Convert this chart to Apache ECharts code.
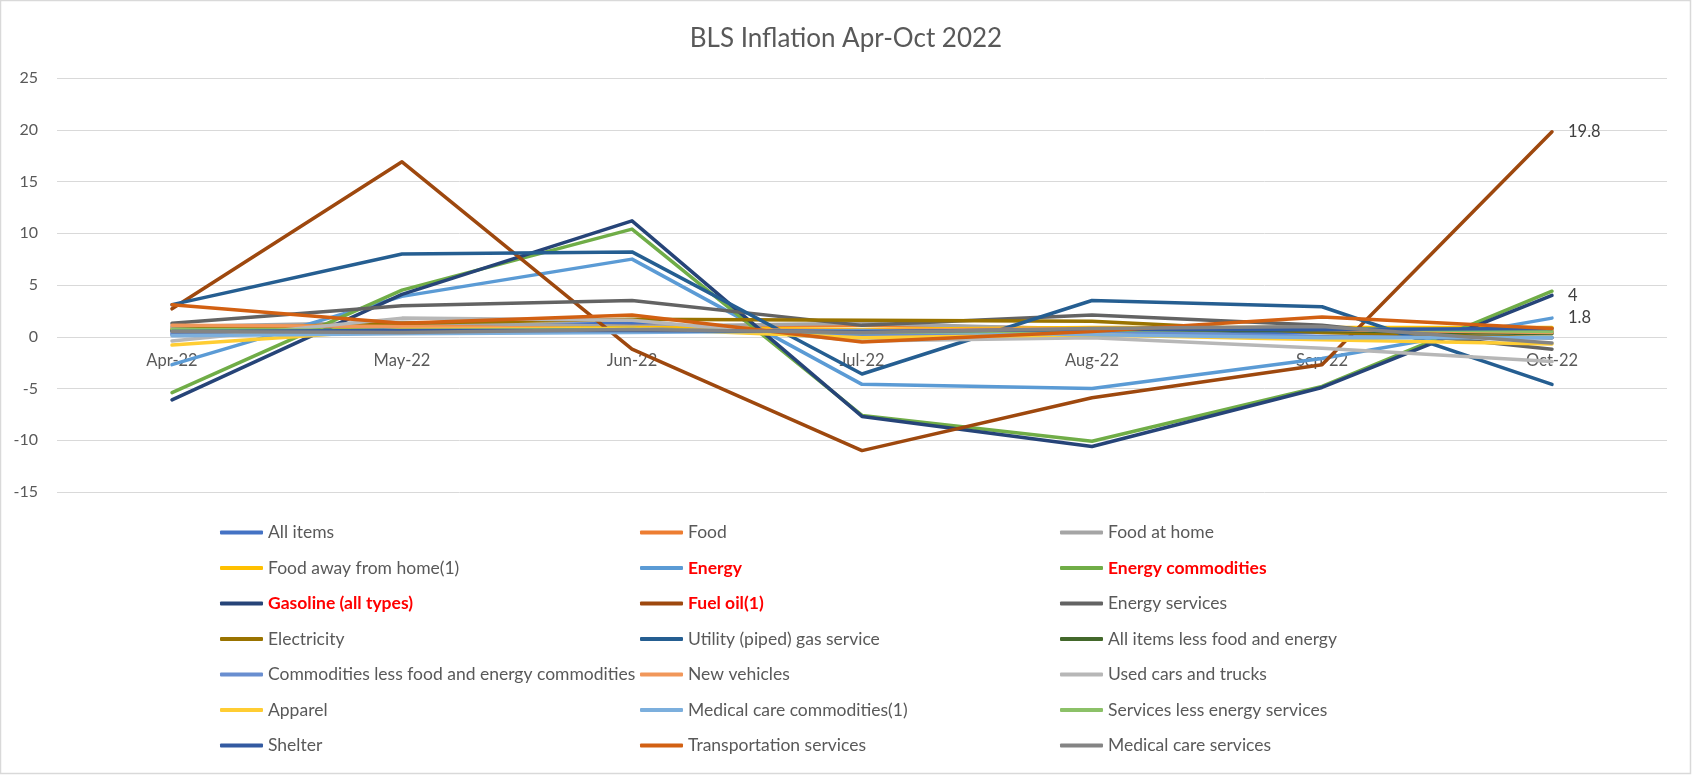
<!DOCTYPE html>
<html>
<head>
<meta charset="utf-8">
<script src="https://cdn.jsdelivr.net/npm/echarts@6/dist/echarts.min.js"></script>
<style>
  html, body { margin: 0; padding: 0; background: #fff; }
  #main { width: 1692px; height: 775px; }
</style>
</head>
<body>
<div id="main"></div>
<script type="text/javascript">
// months on the category axis
var months = ['Apr-22', 'May-22', 'Jun-22', 'Jul-22', 'Aug-22', 'Sep-22', 'Oct-22'];

// monthly % change, one array per item
var allItems        = [0.3, 1.0, 1.3, 0.0, 0.1, 0.4, 0.4];
var food            = [0.9, 1.2, 1.0, 1.1, 0.8, 0.8, 0.6];
var foodAtHome      = [1.0, 1.4, 1.0, 1.3, 0.7, 0.7, 0.4];
var foodAway        = [0.6, 0.7, 0.9, 0.7, 0.9, 0.9, 0.9];
var energy          = [-2.7, 3.9, 7.5, -4.6, -5.0, -2.1, 1.8];
var energyComm      = [-5.4, 4.5, 10.4, -7.6, -10.1, -4.8, 4.4];
var gasoline        = [-6.1, 4.1, 11.2, -7.7, -10.6, -4.9, 4.0];
var fuelOil         = [2.7, 16.9, -1.2, -11.0, -5.9, -2.7, 19.8];
var energyServices  = [1.3, 3.0, 3.5, 1.1, 2.1, 1.1, -1.2];
var electricity     = [0.7, 1.3, 1.7, 1.6, 1.5, 0.4, -0.1];
var utilityGas      = [3.1, 8.0, 8.2, -3.6, 3.5, 2.9, -4.6];
var coreItems       = [0.6, 0.6, 0.7, 0.3, 0.6, 0.6, 0.3];
var coreCommodities = [0.2, 0.7, 0.8, 0.2, 0.5, 0.0, -0.1];
var newVehicles     = [1.1, 1.0, 0.7, 0.6, 0.8, 0.7, 0.4];
var usedCars        = [-0.4, 1.8, 1.6, -0.4, -0.1, -1.1, -2.4];
var apparel         = [-0.8, 0.7, 0.8, -0.1, 0.2, -0.3, -0.7];
var medCommodities  = [0.1, 0.3, 0.4, 0.6, 0.2, -0.1, -0.1];
var servicesLessEn  = [0.7, 0.6, 0.7, 0.4, 0.6, 0.8, 0.5];
var shelter         = [0.5, 0.6, 0.6, 0.5, 0.7, 0.7, 0.8];
var transportServ   = [3.1, 1.3, 2.1, -0.5, 0.5, 1.9, 0.8];
var medServices     = [0.5, 0.4, 0.7, 0.4, 0.8, 1.0, -0.6];

var seriesNames = [
  'All items', 'Food', 'Food at home',
  'Food away from home(1)', 'Energy', 'Energy commodities',
  'Gasoline (all types)', 'Fuel oil(1)', 'Energy services',
  'Electricity', 'Utility (piped) gas service', 'All items less food and energy',
  'Commodities less food and energy commodities', 'New vehicles', 'Used cars and trucks',
  'Apparel', 'Medical care commodities(1)', 'Services less energy services',
  'Shelter', 'Transportation services', 'Medical care services'
];
var seriesValues = [
  allItems, food, foodAtHome,
  foodAway, energy, energyComm,
  gasoline, fuelOil, energyServices,
  electricity, utilityGas, coreItems,
  coreCommodities, newVehicles, usedCars,
  apparel, medCommodities, servicesLessEn,
  shelter, transportServ, medServices
];
var colors = [
  '#4472C4', '#ED7D31', '#A5A5A5', '#FFC000', '#5B9BD5', '#70AD47', '#264478',
  '#9E480E', '#636363', '#997300', '#255E91', '#43682B', '#698ED0', '#F1975A',
  '#B7B7B7', '#FFCD33', '#7CAFDD', '#8CC168', '#335AA1', '#D26012', '#848484'
];
// legend entries shown in red bold
var highlighted = ['Energy', 'Energy commodities', 'Gasoline (all types)', 'Fuel oil(1)'];
// series whose last point carries a value label
var labelledLast = ['Fuel oil(1)', 'Gasoline (all types)', 'Energy'];

var FONT = 'Lato';
var yMin = -15, yMax = 25;
var gridTop = 78, gridBottom = 283;

var chart = echarts.init(document.getElementById('main'));

var series = seriesNames.map(function (name, i) {
  return {
    name: name,
    type: 'line',
    data: seriesValues[i],
    symbol: 'none',
    lineStyle: { width: 3.5, color: colors[i], cap: 'round', join: 'round' },
    itemStyle: { color: colors[i] },
    endLabel: {
      show: labelledLast.indexOf(name) >= 0,
      formatter: '{c}',
      distance: 16,
      color: '#404040',
      fontFamily: FONT,
      fontSize: 16.5
    },
    emphasis: { disabled: true }
  };
});

// 3 legend columns, items read row by row
var legends = [0, 1, 2].map(function (col) {
  var items = [];
  seriesNames.forEach(function (name, i) {
    if (i % 3 !== col) return;
    var item = { name: name };
    if (highlighted.indexOf(name) >= 0) {
      item.textStyle = { color: '#FF0000', fontWeight: 'bold' };
    }
    items.push(item);
  });
  return {
    orient: 'vertical',
    left: 220 + col * 420,
    top: 522,
    padding: 0,
    itemWidth: 43,
    itemHeight: 4,
    itemGap: 14.5,
    icon: 'roundRect',
    selectedMode: false,
    textStyle: { color: '#595959', fontFamily: FONT, fontSize: 17.5, lineHeight: 21 },
    data: items
  };
});

// move the category axis up to the zero line, as in the spreadsheet chart
var plotHeight = 775 - gridTop - gridBottom;
var zeroOffset = -plotHeight * (0 - yMin) / (yMax - yMin);

var option = {
  animation: false,
  color: colors,
  title: {
    text: 'BLS Inflation Apr-Oct 2022',
    left: 'center',
    top: 21,
    textStyle: { color: '#595959', fontFamily: FONT, fontSize: 26, fontWeight: 'normal' }
  },
  legend: legends,
  grid: { left: 57, right: 25, top: gridTop, bottom: gridBottom, containLabel: false },
  xAxis: {
    type: 'category',
    data: months,
    boundaryGap: true,
    offset: zeroOffset,
    axisLine: { show: false, onZero: false },
    axisTick: { show: false },
    axisLabel: { color: '#595959', fontFamily: FONT, fontSize: 16.5, margin: 15 },
    splitLine: { show: false }
  },
  yAxis: {
    type: 'value',
    min: yMin,
    max: yMax,
    interval: 5,
    axisLine: { show: false },
    axisTick: { show: false },
    axisLabel: { color: '#595959', fontFamily: FONT, fontSize: 16, margin: 19 },
    splitLine: { lineStyle: { color: '#D9D9D9', width: 1 } }
  },
  graphic: [{
    type: 'rect',
    shape: { x: 0.5, y: 0.5, width: 1690, height: 773 },
    style: { fill: 'none', stroke: '#D9D9D9', lineWidth: 1.5 },
    silent: true,
    z: -1
  }],
  series: series
};

chart.setOption(option);
</script>
</body>
</html>
